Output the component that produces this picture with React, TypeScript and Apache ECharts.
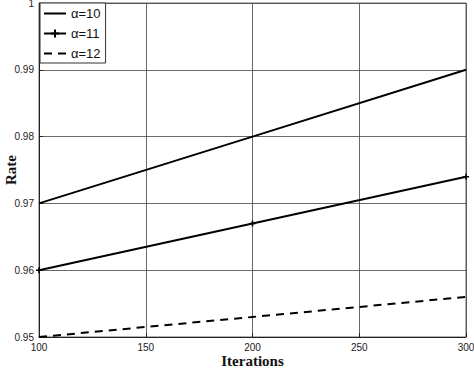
import React, { useEffect, useRef } from "react";
import * as echarts from "echarts";

const iterations = [100, 200, 300];
const alpha10 = [0.97, 0.98, 0.99];
const alpha11 = [0.96, 0.967, 0.974];
const alpha12 = [0.95, 0.953, 0.956];
const seriesNames = ["\u03b1=10", "\u03b1=11", "\u03b1=12"];
const yTicks = [0.95, 0.96, 0.97, 0.98, 0.99, 1];

const plus = "path://M0,5L10,5M5,0L5,10";

export default function App() {
  const ref = useRef<HTMLDivElement>(null);
  useEffect(() => {
    const chart = echarts.init(ref.current!, null, { renderer: "svg" });
    const toPts = (arr: number[]) => iterations.map((x, i) => [x, arr[i]]);
    chart.setOption({
      animation: false,
      backgroundColor: "#fff",
      grid: {
        left: 39,
        right: 8,
        top: 3,
        bottom: 32,
        outerBoundsMode: "none",
        containLabel: false,
        show: true,
        borderColor: "#666",
        borderWidth: 1,
      },
      legend: {
        orient: "vertical",
        left: 40,
        top: 3,
        padding: [4, 5, 3, 3],
        itemGap: 7,
        itemWidth: 22,
        itemHeight: 10,
        backgroundColor: "#fff",
        borderColor: "#333",
        borderWidth: 1,
        borderRadius: 0,
        textStyle: { fontFamily: "Liberation Sans, Arial, sans-serif", fontSize: 13, color: "#111" },
        data: [
          { name: seriesNames[0], itemStyle: { opacity: 0 } },
          { name: seriesNames[1] },
          { name: seriesNames[2], itemStyle: { opacity: 0 } },
        ],
      },
      xAxis: {
        type: "value",
        min: 100,
        max: 300,
        interval: 50,
        name: "Iterations",
        nameLocation: "middle",
        nameGap: 16,
        nameMoveOverlap: false,
        nameTextStyle: { fontFamily: "Liberation Serif, Times New Roman, serif", fontWeight: "bold", fontSize: 15, color: "#111", lineHeight: 15 },
        axisLine: { lineStyle: { color: "#222", width: 1 } },
        axisTick: { show: true, inside: true, length: 4, lineStyle: { color: "#222" } },
        axisLabel: { fontFamily: "Liberation Sans, Arial, sans-serif", fontSize: 10, color: "#222", margin: 5, lineHeight: 10, showMaxLabel: true, showMinLabel: true },
        splitLine: { show: true, lineStyle: { color: "#444", width: 0.8 } },
      },
      yAxis: {
        type: "value",
        min: 0.95,
        max: 1,
        interval: 0.01,
        name: "Rate",
        nameLocation: "middle",
        nameGap: 21,
        nameMoveOverlap: false,
        nameTextStyle: { fontFamily: "Liberation Serif, Times New Roman, serif", fontWeight: "bold", fontSize: 15, color: "#111" },
        axisLine: { lineStyle: { color: "#222", width: 1 } },
        axisTick: { show: true, inside: true, length: 4, lineStyle: { color: "#222" } },
        axisLabel: {
          fontFamily: "Liberation Sans, Arial, sans-serif",
          fontSize: 10,
          color: "#222",
          margin: 5,
          showMaxLabel: true,
          showMinLabel: true,
          formatter: (v: number) => {
            const r = Math.round(v * 100) / 100;
            return yTicks.some((t) => Math.abs(t - r) < 1e-9) ? String(r) : "";
          },
        },
        splitLine: { show: true, lineStyle: { color: "#444", width: 0.8 } },
      },
      series: [
        {
          name: seriesNames[0],
          type: "line",
          data: toPts(alpha10),
          symbol: "none",
          lineStyle: { color: "#000", width: 2, type: "solid" },
          itemStyle: { color: "#000" },
        },
        {
          name: seriesNames[1],
          type: "line",
          data: toPts(alpha11),
          symbol: plus,
          symbolSize: 6,
          lineStyle: { color: "#000", width: 2, type: "solid" },
          itemStyle: { color: "#000", borderColor: "#000", borderWidth: 1.5 },
        },
        {
          name: seriesNames[2],
          type: "line",
          data: toPts(alpha12),
          symbol: "none",
          lineStyle: { color: "#000", width: 2, type: [8, 6] },
          itemStyle: { color: "#000" },
        },
      ],
    });
    return () => chart.dispose();
  }, []);
  return <div ref={ref} style={{ width: 474, height: 369, position: "absolute", left: 0, top: 0 }} />;
}
